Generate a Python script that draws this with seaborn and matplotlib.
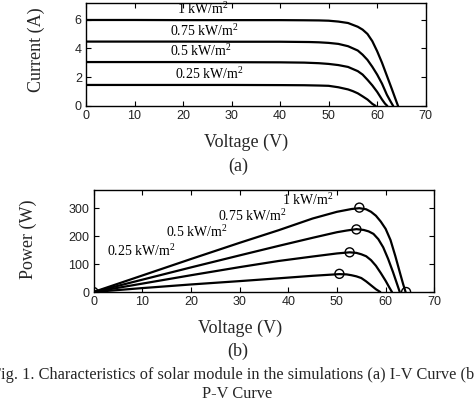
import matplotlib
matplotlib.use("Agg")
import matplotlib.pyplot as plt
import seaborn as sns
import pandas as pd

# ---------------- data ----------------
labels = ["1 kW/m$^2$", "0.75 kW/m$^2$", "0.5 kW/m$^2$", "0.25 kW/m$^2$"]

# I-V curves
V_iv_1 = [0, 10, 20, 30, 40, 45, 48, 50, 52, 54, 56, 57, 58, 59, 60, 61, 62, 63, 63.7, 64.3]
I_iv_1 = [5.97, 5.97, 5.96, 5.96, 5.96, 5.95, 5.94, 5.92, 5.86, 5.76, 5.5, 5.3, 5.0, 4.5, 3.8, 3.0, 2.1, 1.2, 0.55, 0.0]
V_iv_2 = [0, 10, 20, 30, 40, 46, 48, 50, 52, 54, 56, 57, 58, 59, 60, 61, 62, 62.7, 63.3]
I_iv_2 = [4.47, 4.47, 4.47, 4.46, 4.46, 4.44, 4.42, 4.38, 4.31, 4.15, 3.85, 3.56, 3.2, 2.72, 2.18, 1.55, 0.78, 0.35, 0.0]
V_iv_3 = [0, 10, 20, 30, 40, 45, 48, 50, 52, 54, 56, 57, 58, 59, 60, 61, 61.6, 62.1]
I_iv_3 = [3.05, 3.05, 3.05, 3.04, 3.03, 3.01, 2.97, 2.92, 2.84, 2.71, 2.42, 2.18, 1.82, 1.43, 0.98, 0.45, 0.17, 0.0]
V_iv_4 = [0, 10, 20, 30, 40, 45, 48, 50, 52, 54, 55, 56, 57, 58, 59, 59.7]
I_iv_4 = [1.46, 1.46, 1.46, 1.46, 1.45, 1.44, 1.42, 1.40, 1.30, 1.15, 1.03, 0.88, 0.67, 0.45, 0.15, 0.0]

# P-V curves
V_pv_1 = [0, 10, 20, 30, 38, 45, 50, 53, 54.6, 56, 57, 58, 59, 60, 61, 62, 63, 63.6, 64.1]
P_pv_1 = [0, 59, 118, 176, 221, 263, 287, 297, 300, 296, 287, 273, 252, 226, 186, 128, 65, 28, 0]
V_pv_2 = [0, 10, 20, 30, 38, 45, 50, 52, 54, 55.5, 56.5, 57.5, 58.5, 59.5, 60.5, 61.5, 62.3, 62.9]
P_pv_2 = [0, 44, 88, 131, 165, 194, 214, 220, 225, 222, 217, 208, 189, 160, 119, 72, 31, 0]
V_pv_3 = [0, 10, 20, 30, 38, 45, 50, 52.6, 54, 55, 56, 57, 58, 59, 60, 60.7, 61.3]
P_pv_3 = [0, 30, 60, 89, 111, 127, 138, 142, 140, 135, 128, 114, 94, 68, 40, 18, 0]
V_pv_4 = [0, 10, 20, 30, 38, 45, 50.5, 52, 53, 54, 55, 56, 57, 58, 58.9]
P_pv_4 = [0, 14, 27, 39, 49, 58, 64, 63, 60, 56, 50, 38, 24, 10, 0]

# markers (maximum power points + end points)
mark_V = [54.6, 54.0, 52.6, 50.5, 0.0, 64.2]
mark_P = [302, 224, 142, 65, 0, 0]

x_ticks = [0, 10, 20, 30, 40, 50, 60, 70]
i_ticks = [0, 2, 4, 6]
p_ticks = [0, 100, 200, 300]

# label anchor positions (left edge, baseline) in data units
iv_label_pos = [(18.7, 6.38), (17.3, 4.85), (17.3, 3.47), (18.3, 1.87)]
pv_label_pos = [(38.7, 312), (25.6, 254), (14.9, 197), (2.8, 129)]

# ---------------- style ----------------
sns.set_style("ticks")
plt.rcParams["font.family"] = ["Liberation Serif", "DejaVu Serif"]
plt.rcParams["mathtext.fontset"] = "custom"
plt.rcParams["mathtext.rm"] = "Liberation Serif"
plt.rcParams["mathtext.it"] = "Liberation Serif:italic"
plt.rcParams["xtick.direction"] = "in"
plt.rcParams["ytick.direction"] = "in"

fig = plt.figure(figsize=(4.74, 3.98), dpi=100)
ax1 = fig.add_axes([0.1814, 0.7337, 0.7167, 0.2588])
ax2 = fig.add_axes([0.1973, 0.2663, 0.719, 0.2563])

iv = [(V_iv_1, I_iv_1), (V_iv_2, I_iv_2), (V_iv_3, I_iv_3), (V_iv_4, I_iv_4)]
pv = [(V_pv_1, P_pv_1), (V_pv_2, P_pv_2), (V_pv_3, P_pv_3), (V_pv_4, P_pv_4)]

for (v, i) in iv:
    sns.lineplot(x=v, y=i, ax=ax1, color="black", lw=1.6, sort=False, estimator=None)
for (v, p) in pv:
    sns.lineplot(x=v, y=p, ax=ax2, color="black", lw=1.6, sort=False, estimator=None)
sns.scatterplot(x=mark_V, y=mark_P, ax=ax2, marker="o", s=42, facecolor="none",
                edgecolor="black", linewidth=1.0, zorder=5)

for lab, (x, y) in zip(labels, iv_label_pos):
    ax1.text(x, y, lab, fontsize=10, ha="left", va="baseline", color="black")
for lab, (x, y) in zip(labels, pv_label_pos):
    ax2.text(x, y, lab, fontsize=10, ha="left", va="baseline", color="black")

for ax, yt, ylim in [(ax1, i_ticks, (0, 7.15)), (ax2, p_ticks, (0, 365))]:
    ax.set_xlim(0, 70)
    ax.set_ylim(*ylim)
    ax.set_xticks(x_ticks)
    ax.set_yticks(yt)
    ax.tick_params(direction="in", top=True, right=True, length=3.5, width=0.8,
                   labelsize=9, colors="black", labelcolor="#222222", pad=3)
    for lab in ax.get_xticklabels() + ax.get_yticklabels():
        lab.set_fontfamily("Liberation Sans")
    for s in ax.spines.values():
        s.set_visible(True)
        s.set_color("black")
        s.set_linewidth(1.0)
    ax.set_xlabel("")

ax1.set_ylabel("Current (A)", fontsize=13)
ax1.yaxis.set_label_coords(-0.121, 0.544)
ax2.set_ylabel("Power (W)", fontsize=13)
ax2.yaxis.set_label_coords(-0.166, 0.52)

H = 398.0
W = 474.0
fig.text(246 / W, 1 - 142 / H, "Voltage (V)", fontsize=13, ha="center", va="center")
fig.text(238 / W, 1 - 166 / H, "(a)", fontsize=13, ha="center", va="center")
fig.text(240 / W, 1 - 328 / H, "Voltage (V)", fontsize=13, ha="center", va="center")
fig.text(238 / W, 1 - 351 / H, "(b)", fontsize=13, ha="center", va="center")
fig.text(236 / W, 1 - 375 / H,
         "Fig. 1. Characteristics of solar module in the simulations (a) I-V Curve (b)",
         fontsize=11.8, ha="center", va="center")
fig.text(237 / W, 1 - 394 / H, "P-V Curve", fontsize=11.8, ha="center", va="center")

fig.savefig("out.png", dpi=100)
